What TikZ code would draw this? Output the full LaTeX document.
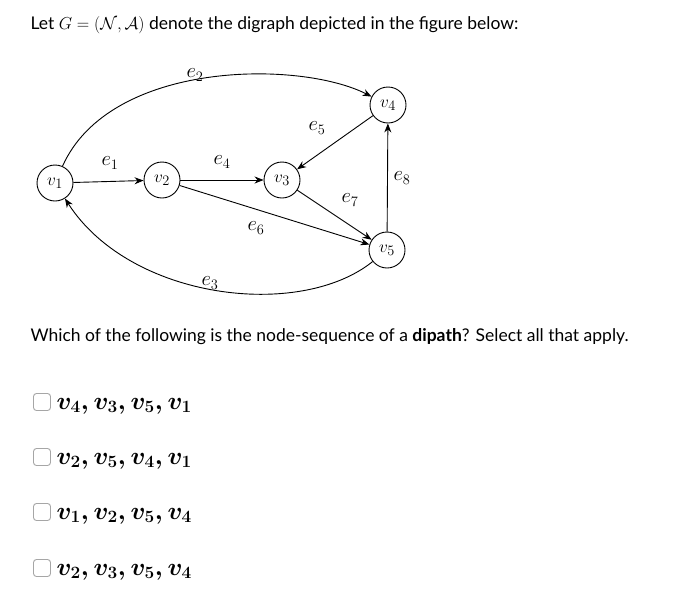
\documentclass[tikz,border=0pt]{standalone}
\usepackage{fontspec}
\setmainfont{Lato}
\usetikzlibrary{arrows.meta}
\begin{document}
\begin{tikzpicture}[x=1pt,y=-1pt,
  vert/.style={draw,circle,minimum size=36pt,inner sep=0pt,line width=0.9pt,font=\fontsize{19}{19}\selectfont},
  arc/.style={-{Stealth[length=9pt,width=7pt]},line width=0.9pt},
  lbl/.style={font=\fontsize{20}{20}\selectfont},
  txt/.style={anchor=west,font=\fontsize{17.5}{20}\selectfont},
  opt/.style={anchor=west,font=\fontsize{27}{27}\selectfont\mathversion{bold}},
  box/.style={draw=gray!70,rounded corners=3pt,minimum size=17pt,inner sep=0pt,line width=0.9pt}]
\useasboundingbox[fill=white] (0,0) rectangle (700,613);
\node[txt] (t1) at (27,25) {Let $G=(\mathcal{N},\mathcal{A})$ denote the digraph depicted in the figure below:};
\node[vert] (v1) at (55,183) {$v_1$};
\node[vert] (v2) at (162,180) {$v_2$};
\node[vert] (v3) at (282,180) {$v_3$};
\node[vert] (v4) at (388,105) {$v_4$};
\node[vert] (v5) at (387,250) {$v_5$};
\draw[arc] (v1) -- (v2);
\draw[arc] (v1) .. controls (110,60) and (300,60) .. (v4);
\draw[arc] (v5) .. controls (300,320) and (130,300) .. (v1);
\draw[arc] (v2) -- (v3);
\draw[arc] (v4) -- (v3);
\draw[arc] (v2) -- (v5);
\draw[arc] (v3) -- (v5);
\draw[arc] (v5) -- (v4);
\node[lbl] (e1) at (110,163) {$e_1$};
\node[lbl] (e2) at (195,75) {$e_2$};
\node[lbl] (e3) at (210,283) {$e_3$};
\node[lbl] (e4) at (222,162) {$e_4$};
\node[lbl] (e5) at (317,128) {$e_5$};
\node[lbl] (e6) at (256,228) {$e_6$};
\node[lbl] (e7) at (350,200) {$e_7$};
\node[lbl] (e8) at (402,178) {$e_8$};
\node[txt] (q) at (27,337) {Which of the following is the node-sequence of a \textbf{dipath}? Select all that apply.};
\node[box] (b1) at (42,402) {};
\node[box] (b2) at (42,457) {};
\node[box] (b3) at (42,512) {};
\node[box] (b4) at (42,568) {};
\node[opt] (o1) at (53,406) {$v_4,v_3,v_5,v_1$};
\node[opt] (o2) at (53,461) {$v_2,v_5,v_4,v_1$};
\node[opt] (o3) at (53,516) {$v_1,v_2,v_5,v_4$};
\node[opt] (o4) at (53,572) {$v_2,v_3,v_5,v_4$};
\end{tikzpicture}
\end{document}
